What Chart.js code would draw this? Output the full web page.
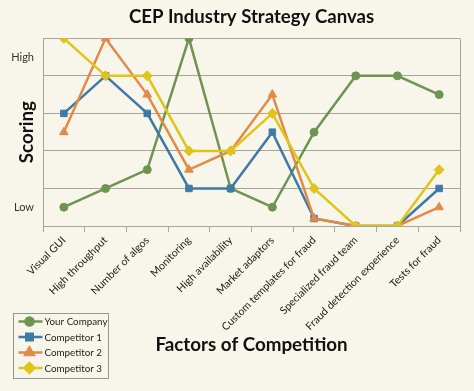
<!DOCTYPE html>
<html>
<head>
<meta charset="utf-8">
<script src="https://cdn.jsdelivr.net/npm/chart.js@4.4.1/dist/chart.umd.min.js"></script>
<style>
  html, body { margin: 0; padding: 0; background: #f8f6eb; }
  #wrap { width: 474px; height: 391px; }
</style>
</head>
<body>
<div id="wrap"><canvas id="chart" width="474" height="391"></canvas></div>
<script>
// factors on the x axis
const categories = [
    'Visual GUI', 'High throughput', 'Number of algos', 'Monitoring',
    'High availability', 'Market adaptors', 'Custom templates for fraud',
    'Specialized fraud team', 'Fraud detection experience', 'Tests for fraud'
];

// scores, 0 = bottom of grid, 5 = top
const yourCompany = [0.5, 1, 1.5, 5, 1, 0.5, 2.5, 4, 4, 3.5];
const competitor1 = [3, 4, 3, 1, 1, 2.5, 0.2, 0, 0, 1];
const competitor2 = [2.5, 5, 3.5, 1.5, 2, 3.5, 0.2, 0, 0, 0.5];
const competitor3 = [5, 4, 4, 2, 2, 3, 1, 0, 0, 1.5];

// y tick labels
const yTickLabels = { 0.5: 'Low', 4.5: 'High' };

const FONT = 'Lato, "Open Sans", sans-serif';
const GRID = '#a6a59c';

function series(label, data, color, style, radius, order) {
    return {
        label: label,
        data: data,
        borderColor: color,
        backgroundColor: color,
        borderWidth: 2.5,
        pointStyle: style,
        pointRadius: radius,
        pointHoverRadius: radius,
        pointBorderWidth: 1,
        tension: 0,
        order: order
    };
}

// right edge of the plot frame
const framePlugin = {
    id: 'frame',
    beforeDatasetsDraw(chart) {
        const a = chart.chartArea;
        const ctx = chart.ctx;
        ctx.save();
        ctx.strokeStyle = GRID;
        ctx.lineWidth = 1;
        ctx.beginPath();
        ctx.moveTo(a.right + 0.5, a.top);
        ctx.lineTo(a.right + 0.5, a.bottom);
        ctx.stroke();
        ctx.restore();
    }
};

// boxed legend at bottom left, line + marker
const boxLegend = {
    id: 'boxLegend',
    afterDraw(chart) {
        const ctx = chart.ctx;
        const x = 13.5, y = 313.5, w = 95, h = 65;
        ctx.save();
        ctx.fillStyle = '#f8f6eb';
        ctx.strokeStyle = '#97968c';
        ctx.lineWidth = 1;
        ctx.fillRect(x, y, w, h);
        ctx.strokeRect(x, y, w, h);
        ctx.font = '9.8px ' + FONT;
        ctx.textBaseline = 'middle';
        chart.data.datasets.forEach(function (ds, i) {
            const cy = y + 8 + i * 15.5;
            ctx.strokeStyle = ds.borderColor;
            ctx.lineWidth = 2.5;
            ctx.beginPath();
            ctx.moveTo(x + 5, cy);
            ctx.lineTo(x + 29, cy);
            ctx.stroke();
            ctx.fillStyle = ds.backgroundColor;
            Chart.helpers.drawPoint(ctx, {
                pointStyle: ds.pointStyle,
                radius: ds.pointRadius,
                rotation: 0,
                borderWidth: 1
            }, x + 16, cy);
            ctx.fillStyle = '#222';
            ctx.fillText(ds.label, x + 31, cy + 0.5);
        });
        ctx.restore();
    }
};

new Chart(document.getElementById('chart'), {
    type: 'line',
    data: {
        labels: categories,
        datasets: [
            series('Your Company', yourCompany, '#6f9452', 'circle', 4, 3),
            series('Competitor 1', competitor1, '#3f7aa6', 'rect', 4.6, 2),
            series('Competitor 2', competitor2, '#e08b49', 'triangle', 5, 1),
            series('Competitor 3', competitor3, '#dfc51a', 'rectRot', 5, 0)
        ]
    },
    options: {
        responsive: false,
        animation: false,
        layout: {
            padding: { top: 5, right: 14, bottom: 0, left: 0 }
        },
        plugins: {
            legend: { display: false },
            tooltip: { enabled: false },
            title: {
                display: true,
                fullSize: false,
                text: 'CEP Industry Strategy Canvas',
                color: '#111',
                font: { family: FONT, size: 18.6, weight: 'bold' },
                padding: { top: 1, bottom: 10 }
            }
        },
        scales: {
            x: {
                offset: true,
                afterFit: function (scale) { scale.height = 165; },
                grid: {
                    offset: true,
                    drawOnChartArea: false,
                    drawTicks: true,
                    tickLength: 6,
                    color: GRID
                },
                border: { color: GRID },
                ticks: {
                    maxRotation: 45,
                    minRotation: 45,
                    autoSkip: false,
                    padding: 2,
                    color: '#222',
                    font: { family: FONT, size: 10.6 }
                },
                title: {
                    display: true,
                    text: 'Factors of Competition',
                    color: '#111',
                    font: { family: FONT, size: 18.8, weight: 'bold' },
                    padding: { top: 0, bottom: 35 }
                }
            },
            y: {
                min: 0,
                max: 5,
                afterFit: function (scale) { scale.width = 43; },
                grid: {
                    drawTicks: false,
                    color: function (ctx) {
                        return Number.isInteger(ctx.tick.value) ? GRID : 'rgba(0,0,0,0)';
                    }
                },
                border: { color: GRID },
                ticks: {
                    stepSize: 0.5,
                    padding: 9,
                    color: '#333',
                    font: { family: FONT, size: 11 },
                    callback: function (value) {
                        if (yTickLabels[value]) return yTickLabels[value];
                        return Number.isInteger(value) ? '' : null;
                    }
                },
                title: {
                    display: true,
                    text: 'Scoring',
                    color: '#111',
                    font: { family: FONT, size: 18.8, weight: 'bold' },
                    padding: { top: 16, bottom: 0 }
                }
            }
        }
    },
    plugins: [framePlugin, boxLegend]
});
</script>
</body>
</html>
